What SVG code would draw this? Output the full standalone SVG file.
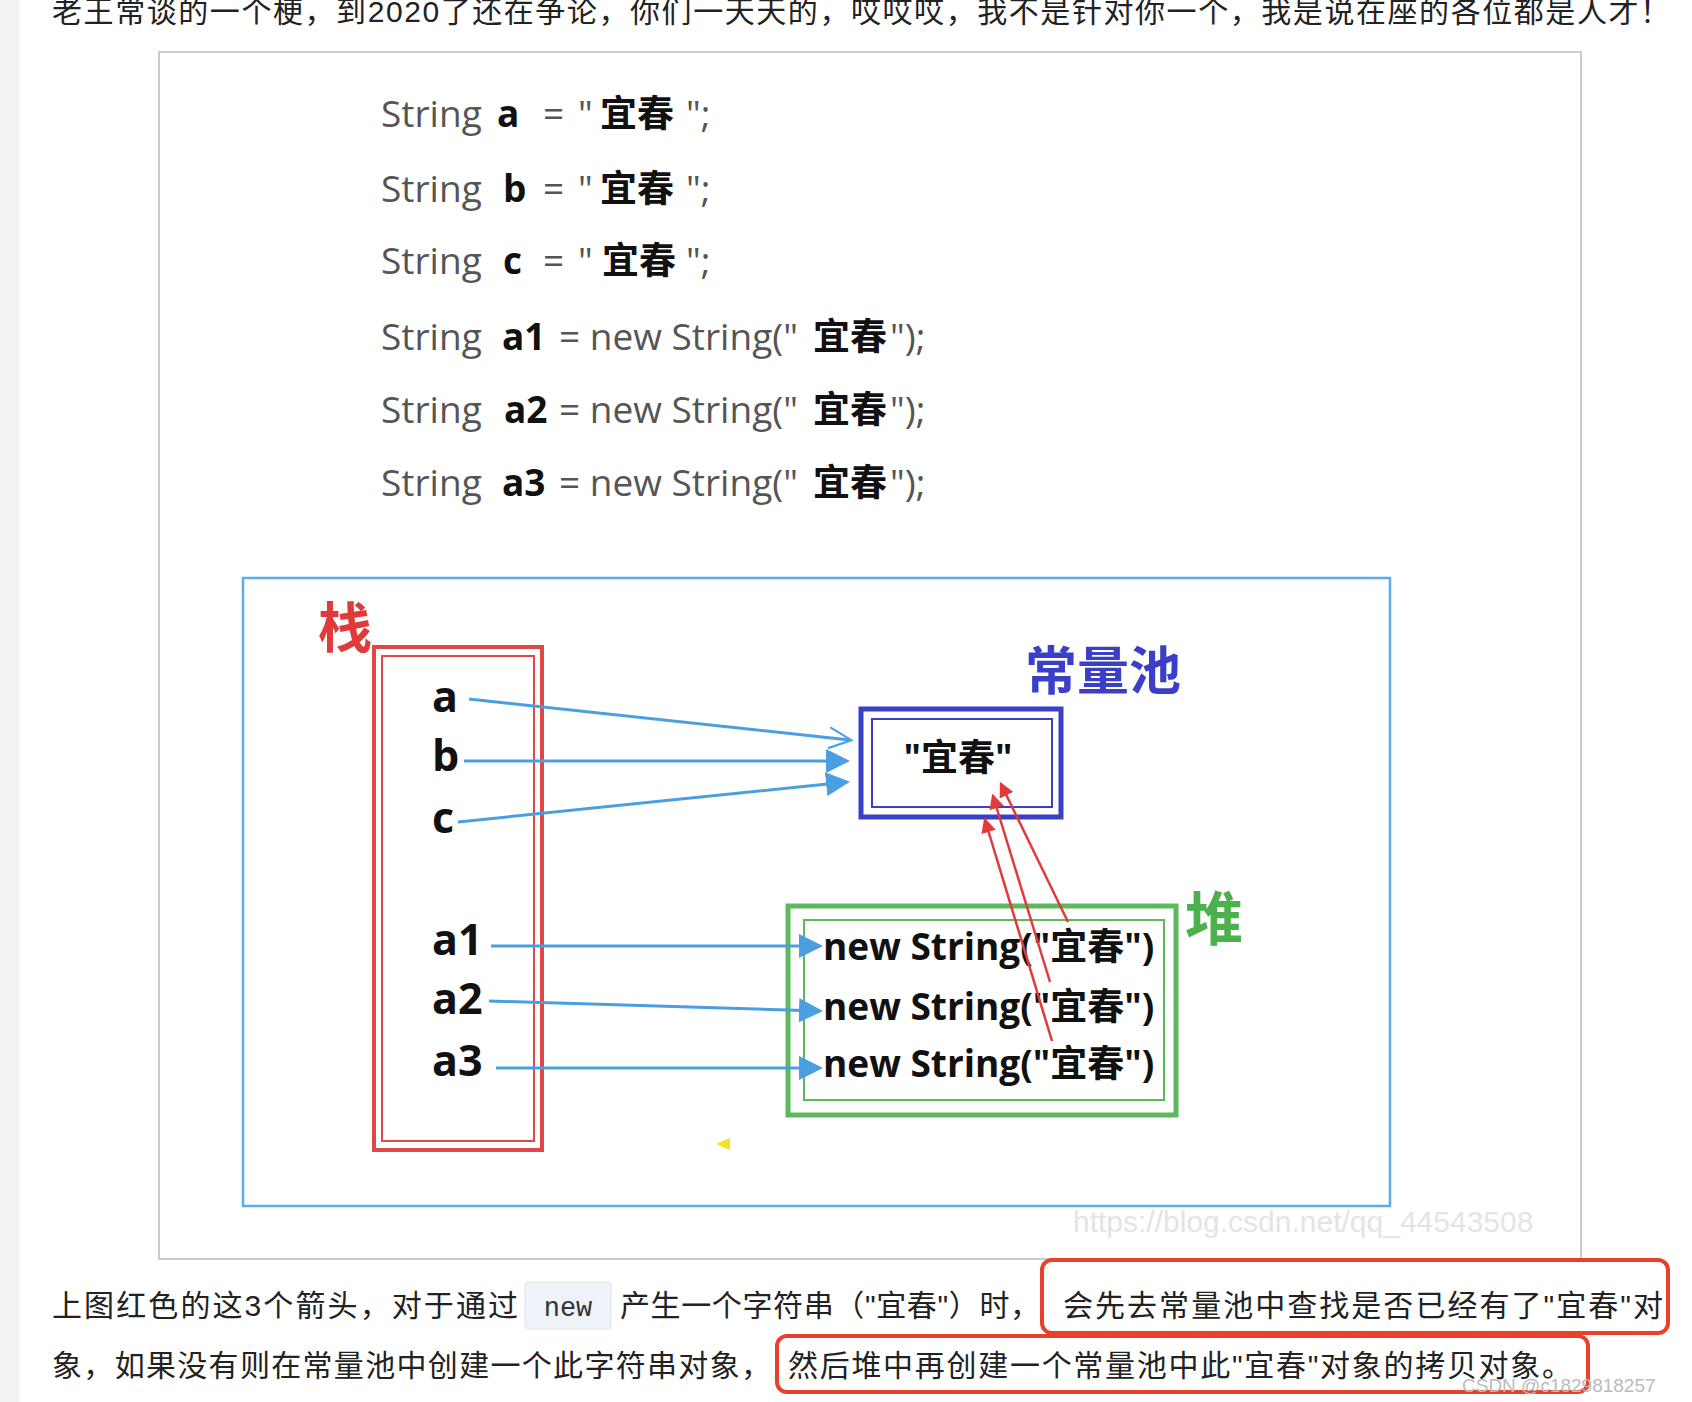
<svg xmlns="http://www.w3.org/2000/svg" width="1692" height="1402" viewBox="0 0 1692 1402">
<defs>
<style>
.t{font-family:"Liberation Sans","Noto Sans CJK SC",sans-serif;fill:#222}
.code{font-family:"Open Sans","Noto Sans CJK SC",sans-serif;font-size:37px;fill:#555}
.code tspan.b{font-weight:bold;fill:#111}
.lbl{font-family:"Open Sans","Noto Sans CJK SC",sans-serif;font-weight:bold;font-size:43px;fill:#111}
.ns{font-family:"Open Sans","Noto Sans CJK SC",sans-serif;font-weight:bold;font-size:37px;fill:#111}
.blue{stroke:#4a9fe0;stroke-width:3;fill:none}
.red{stroke:#e03a3a;stroke-width:2.5;fill:none}
</style>
<marker id="ab" markerWidth="8" markerHeight="8" refX="7" refY="4" orient="auto" markerUnits="strokeWidth"><path d="M0,0 L8,4 L0,8 z" fill="#4a9fe0"/></marker>
<marker id="abo" markerWidth="8" markerHeight="8" refX="7" refY="4" orient="auto" markerUnits="strokeWidth"><path d="M0,0.5 L7.5,4 L0,7.5" fill="none" stroke="#4a9fe0" stroke-width="0.7"/></marker>
<marker id="ar" markerWidth="6" markerHeight="6" refX="5" refY="3" orient="auto" markerUnits="strokeWidth"><path d="M0,0 L6,3 L0,6 z" fill="#e03a3a"/></marker>
</defs>
<rect width="1692" height="1402" fill="#fff"/>
<rect x="0" y="0" width="19" height="1402" fill="#f2f2f2"/>
<text class="t" x="52" y="22" font-size="30" textLength="1618">老王常谈的一个梗，到2020了还在争论，你们一天天的，哎哎哎，我不是针对你一个，我是说在座的各位都是人才！</text>
<rect x="159" y="52" width="1422" height="1207" fill="#fff" stroke="#ccc" stroke-width="2"/>
<g id="code">
<text class="code" x="381" y="127">String<tspan class="b" x="497">a</tspan><tspan x="543">=</tspan><tspan x="578">"</tspan><tspan class="b" x="600">宜春</tspan><tspan x="686">";</tspan></text>
<text class="code" x="381" y="202">String<tspan class="b" x="503">b</tspan><tspan x="543">=</tspan><tspan x="578">"</tspan><tspan class="b" x="600">宜春</tspan><tspan x="686">";</tspan></text>
<text class="code" x="381" y="274">String<tspan class="b" x="503">c</tspan><tspan x="543">=</tspan><tspan x="578">"</tspan><tspan class="b" x="602">宜春</tspan><tspan x="686">";</tspan></text>
<text class="code" x="381" y="350">String<tspan class="b" x="502">a1</tspan><tspan x="559">= new String("</tspan><tspan class="b" x="813">宜春</tspan><tspan x="890">");</tspan></text>
<text class="code" x="381" y="423">String<tspan class="b" x="504">a2</tspan><tspan x="559">= new String("</tspan><tspan class="b" x="813">宜春</tspan><tspan x="890">");</tspan></text>
<text class="code" x="381" y="496">String<tspan class="b" x="502">a3</tspan><tspan x="559">= new String("</tspan><tspan class="b" x="813">宜春</tspan><tspan x="890">");</tspan></text>
</g>
<rect x="243" y="578" width="1147" height="628" fill="none" stroke="#5aaee8" stroke-width="2.5"/>
<g id="stack">
<text x="318" y="648" font-family="'Noto Sans CJK SC',sans-serif" font-weight="bold" font-size="54" fill="#e03a3a">栈</text>
<rect x="374" y="647" width="168" height="503" fill="none" stroke="#e04848" stroke-width="4"/>
<rect x="382" y="656" width="152" height="485" fill="none" stroke="#e04848" stroke-width="2"/>
<text class="lbl" x="432" y="712">a</text>
<text class="lbl" x="432" y="771">b</text>
<text class="lbl" x="432" y="833">c</text>
<text class="lbl" x="432" y="955">a1</text>
<text class="lbl" x="432" y="1014">a2</text>
<text class="lbl" x="432" y="1076">a3</text>
</g>
<g id="pool">
<text x="1025" y="690" font-family="'Noto Sans CJK SC',sans-serif" font-weight="bold" font-size="52" fill="#3b3fc8">常量池</text>
<rect x="861" y="709" width="200" height="108" fill="none" stroke="#3b3fc8" stroke-width="5"/>
<rect x="872" y="719" width="180" height="88" fill="none" stroke="#3b3fc8" stroke-width="2"/>
<text class="ns" x="958" y="771" text-anchor="middle">"宜春"</text>
</g>
<g id="heap">
<text x="1185" y="940" font-family="'Noto Sans CJK SC',sans-serif" font-weight="bold" font-size="58" fill="#4cb04c">堆</text>
<rect x="788" y="906" width="388" height="209" fill="none" stroke="#5cba5c" stroke-width="5"/>
<rect x="804" y="920" width="360" height="180" fill="none" stroke="#5cba5c" stroke-width="2"/>
<text class="ns" x="823" y="960">new String("宜春")</text>
<text class="ns" x="823" y="1020">new String("宜春")</text>
<text class="ns" x="823" y="1077">new String("宜春")</text>
</g>
<g id="connectors">
<line class="blue" x1="469" y1="699" x2="850" y2="740" stroke-width="2" marker-end="url(#abo)"/>
<line class="blue" x1="464" y1="761" x2="847" y2="761" stroke-width="4" marker-end="url(#ab)"/>
<line class="blue" x1="458" y1="822" x2="847" y2="782" stroke-width="4" marker-end="url(#ab)"/>
<line class="blue" x1="491" y1="946" x2="820" y2="946" stroke-width="4" marker-end="url(#ab)"/>
<line class="blue" x1="489" y1="1001" x2="820" y2="1011" stroke-width="4" marker-end="url(#ab)"/>
<line class="blue" x1="496" y1="1068" x2="820" y2="1068" stroke-width="4" marker-end="url(#ab)"/>
<line class="red" x1="1068" y1="922" x2="1001" y2="784" marker-end="url(#ar)"/>
<line class="red" x1="1050" y1="982" x2="993" y2="796" marker-end="url(#ar)"/>
<line class="red" x1="1052" y1="1041" x2="985" y2="820" marker-end="url(#ar)"/>
<path d="M730,1138 L716,1144 L730,1150 z" fill="#f5e020"/>
</g>
<text x="1073" y="1232" font-family="'Liberation Sans',sans-serif" font-size="30" fill="#e4e4e4">https://blog.csdn.net/qq_44543508</text>
<g id="para">
<text class="t" x="52" y="1316" font-size="30" textLength="466">上图红色的这3个箭头，对于通过</text>
<rect x="525" y="1282" width="86" height="47" rx="4" fill="#eef3fa" stroke="#dde3ea"/>
<text x="568" y="1316" text-anchor="middle" font-family="'Liberation Mono',monospace" font-size="27" fill="#333">new</text>
<text class="t" x="620" y="1316" font-size="30" textLength="420">产生一个字符串（"宜春"）时，</text>
<text class="t" x="1063" y="1316" font-size="30" textLength="600">会先去常量池中查找是否已经有了"宜春"对</text>
<text class="t" x="52" y="1376" font-size="30" textLength="719">象，如果没有则在常量池中创建一个此字符串对象，</text>
<text class="t" x="788" y="1376" font-size="30" textLength="784">然后堆中再创建一个常量池中此"宜春"对象的拷贝对象。</text>
<rect x="1042" y="1260" width="626" height="73" rx="10" fill="none" stroke="#e8402a" stroke-width="4"/>
<rect x="777" y="1336" width="811" height="56" rx="10" fill="none" stroke="#e8402a" stroke-width="4"/>
<text x="1462" y="1392" font-family="'Liberation Sans',sans-serif" font-size="19" fill="#bbb">CSDN @c1829818257</text>
</g>
</svg>
